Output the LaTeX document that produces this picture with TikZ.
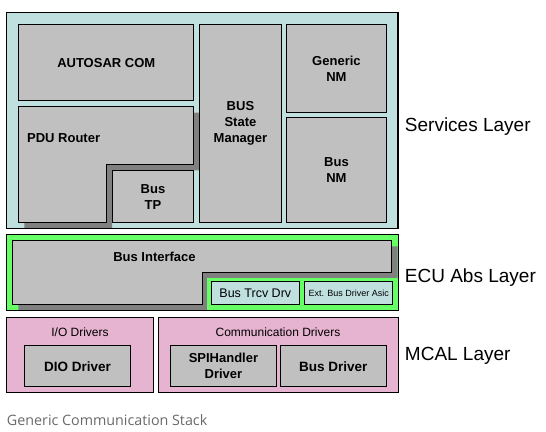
\documentclass[tikz,border=0pt]{standalone}
\usepackage{fontspec}
\setmainfont{Liberation Sans}
\newfontfamily\capfont{Open Sans}
\definecolor{svc}{HTML}{C0E0E0}
\definecolor{boxgray}{HTML}{C0C0C0}
\definecolor{shadowgray}{HTML}{808080}
\definecolor{ecugreen}{HTML}{66FF66}
\definecolor{mcalpink}{HTML}{E6B3D1}
\definecolor{capgray}{HTML}{6A6A6A}
\begin{document}
\begin{tikzpicture}[x=1pt,y=-1pt,line width=0.9pt,
  box/.style={draw=black, fill=boxgray, anchor=north west, inner sep=0pt, align=center,
    font=\bfseries\fontsize{13}{16}\selectfont},
  lightbox/.style={draw=black, fill=svc, anchor=north west, inner sep=0pt, align=center,
    font=\fontsize{12.5}{15}\selectfont},
  layerbox/.style={draw=black, anchor=north west, inner sep=0pt},
  layerlabel/.style={anchor=west, inner sep=0pt, font=\fontsize{19}{22}\selectfont},
  grouplabel/.style={inner sep=0pt, font=\fontsize{12}{14}\selectfont},
  shadow/.style={fill=shadowgray, draw=none}
]
\useasboundingbox (0,0) rectangle (546,431);
\fill[white] (0,0) rectangle (546,431);

% ---------------- Services layer ----------------
\node[layerbox, fill=svc, minimum width=391, minimum height=215.7] (svc) at (6.3,12.3) {};
% shadow of PDU Router
\fill[shadow] (24.3,112.7) -- (199.3,112.7) -- (199.3,170.3) -- (112,170.3) -- (112,228) -- (24.3,228) -- cycle;
\draw[fill=boxgray] (18.3,106.7) -- (193.3,106.7) -- (193.3,164.3) -- (106,164.3) -- (106,222.3) -- (18.3,222.3) -- cycle;
\node[anchor=west, inner sep=0pt, font=\bfseries\fontsize{13}{16}\selectfont] (pdu) at (26.7,138) {PDU Router};
\node[box, minimum width=175, minimum height=75.7] (com) at (18.3,24.3) {AUTOSAR COM};
\node[box, minimum width=81.6, minimum height=52.3] (tp) at (111.7,170) {Bus\\TP};
\node[box, minimum width=81.4, minimum height=198] (bsm) at (199.3,24.3) {BUS\\State\\Manager};
\node[box, minimum width=99.4, minimum height=88] (gnm) at (286.3,24.3) {Generic\\NM};
\node[box, minimum width=99.4, minimum height=105] (bnm) at (286.3,117.3) {Bus\\NM};
\draw (svc.north west) rectangle (svc.south east);
\node[layerlabel] (svcl) at (404.5,126.5) {Services Layer};

% ---------------- ECU abstraction layer ----------------
\node[layerbox, fill=ecugreen, minimum width=391.4, minimum height=75.7] (ecu) at (6.3,234.3) {};
\fill[shadow] (18.3,246.3) -- (397.7,246.3) -- (397.7,278.3) -- (208.3,278.3) -- (208.3,310) -- (18.3,310) -- cycle;
\fill[ecugreen] (207.3,277.7) rectangle (397.2,309.5);
\draw[fill=boxgray] (12.3,240.3) -- (391.7,240.3) -- (391.7,272.5) -- (202.8,272.5) -- (202.8,304.3) -- (12.3,304.3) -- cycle;
\node[inner sep=0pt, font=\bfseries\fontsize{13}{16}\selectfont] (busif) at (154.5,256.7) {Bus Interface};
\node[lightbox, minimum width=88.3, minimum height=23.3] (trcv) at (210.7,281) {Bus Trcv Drv};
\node[lightbox, minimum width=88, minimum height=23.3, font=\fontsize{9}{11}\selectfont] (ext) at (304.3,281) {Ext. Bus Driver Asic};
\draw (ecu.north west) rectangle (ecu.south east);
\node[layerlabel] (ecul) at (404.5,277.3) {ECU Abs Layer};

% ---------------- MCAL layer ----------------
\node[layerbox, fill=mcalpink, minimum width=146.4, minimum height=75.6] (io) at (6.3,316.7) {};
\node[layerbox, fill=mcalpink, minimum width=239.4, minimum height=75.6] (comdrv) at (158.3,316.7) {};
\node[grouplabel] (iol) at (80,332.3) {I/O Drivers};
\node[grouplabel] (comdrvl) at (278,332.3) {Communication Drivers};
\node[box, minimum width=105.7, minimum height=41, font=\bfseries\fontsize{13.5}{16}\selectfont] (dio) at (24.3,345.3) {DIO Driver};
\node[box, minimum width=106, minimum height=41] (spi) at (170,345.3) {SPIHandler\\Driver};
\node[box, minimum width=105.7, minimum height=41, font=\bfseries\fontsize{13.5}{16}\selectfont] (busdrv) at (280,345.3) {Bus Driver};
\node[layerlabel] (mcall) at (404.5,356) {MCAL Layer};

% ---------------- caption ----------------
\node[anchor=west, inner sep=0pt, text=capgray, font=\capfont\fontsize{14.3}{17}\selectfont] (cap) at (6.5,420) {Generic Communication Stack};
\end{tikzpicture}
\end{document}
